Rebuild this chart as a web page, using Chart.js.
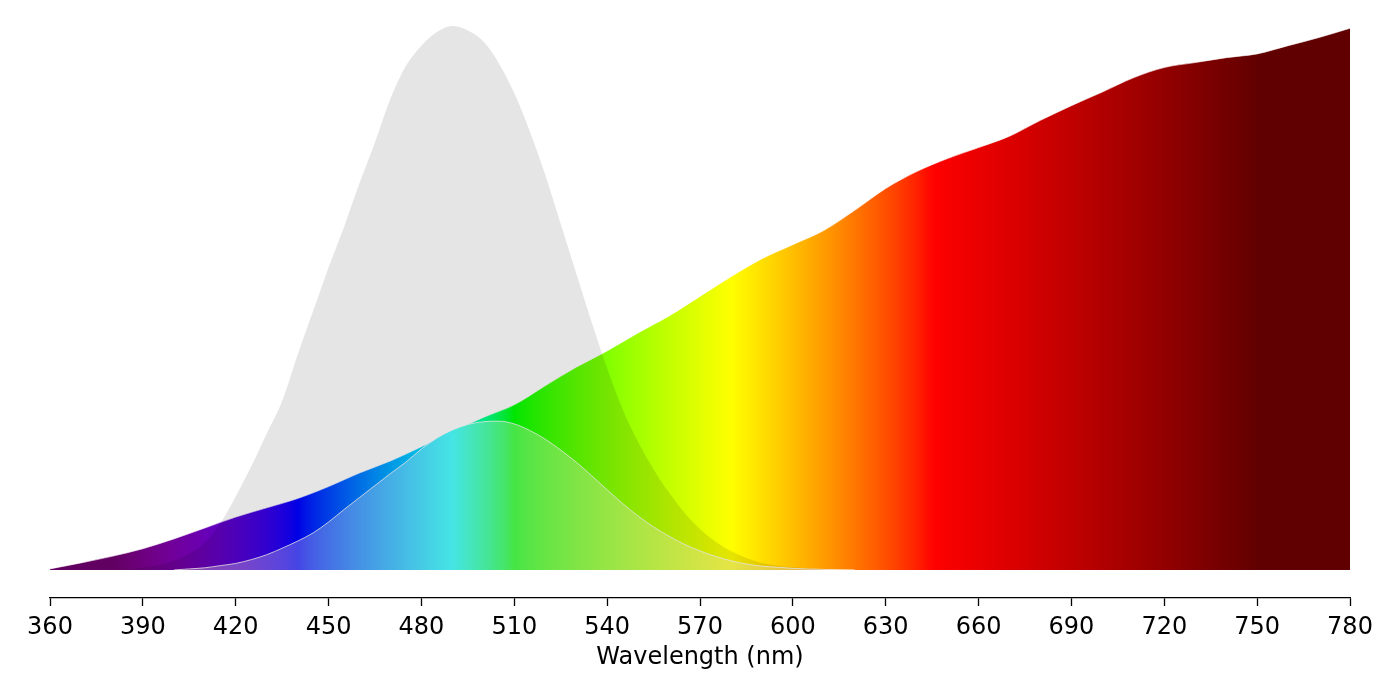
<!DOCTYPE html>
<html>
<head>
<meta charset="utf-8">
<script src="https://cdn.jsdelivr.net/npm/chart.js@4/dist/chart.umd.min.js"></script>
<style>
  html, body { margin: 0; padding: 0; background: #fff; }
  #wrap { width: 1400px; height: 700px; position: relative; }
</style>
</head>
<body>
<div id="wrap"><canvas id="chart"></canvas></div>
<script>
// spectrum (big rainbow area), read every 10 nm
const spectrumWl = [360, 370, 380, 390, 400, 410, 420, 430, 440, 450, 460, 470, 480, 490, 500, 510, 520, 530, 540, 550,
                    560, 570, 580, 590, 600, 610, 620, 630, 640, 650, 660, 670, 680, 690, 700, 710, 720, 730, 740, 750,
                    760, 770, 780];
const spectrumVals = [0.002, 0.013, 0.025, 0.039, 0.057, 0.077, 0.097, 0.114, 0.131, 0.153, 0.178, 0.200, 0.226, 0.254, 0.280, 0.303, 0.338, 0.372, 0.402, 0.435,
                      0.466, 0.502, 0.538, 0.571, 0.597, 0.623, 0.660, 0.700, 0.731, 0.755, 0.775, 0.796, 0.825, 0.852, 0.877, 0.903, 0.922, 0.931, 0.940, 0.947,
                      0.962, 0.977, 0.994];

// eye sensitivity (grey hump), every 5 nm
const sensWl = [380, 385, 390, 395, 400, 405, 410, 415, 420, 425, 430, 435, 440, 445, 450, 455, 460, 465, 470, 475,
                480, 485, 490, 495, 500, 505, 510, 515, 520, 525, 530, 535, 540, 545, 550, 555, 560, 565, 570, 575,
                580, 585, 590, 595, 600, 610, 620];
const sensVals = [0.0, 0.001, 0.004, 0.009, 0.017, 0.03, 0.05, 0.085, 0.135, 0.19, 0.25, 0.31, 0.395, 0.475, 0.555, 0.63, 0.71, 0.785, 0.865, 0.925,
                  0.962, 0.987, 0.998, 0.99, 0.97, 0.93, 0.875, 0.805, 0.725, 0.635, 0.545, 0.455, 0.37, 0.295, 0.235, 0.185, 0.142, 0.105, 0.075, 0.052,
                  0.035, 0.022, 0.013, 0.008, 0.005, 0.0015, 0.0];

// perceived light (small rainbow hump), every 5 nm
const perceivedWl = [400, 405, 410, 415, 420, 425, 430, 435, 440, 445, 450, 455, 460, 465, 470, 475, 480, 485, 490, 495,
                     500, 505, 510, 515, 520, 525, 530, 535, 540, 545, 550, 555, 560, 565, 570, 575, 580, 585, 590, 595,
                     600, 610, 620];
const perceivedVals = [0.0, 0.002, 0.004, 0.008, 0.012, 0.019, 0.028, 0.04, 0.053, 0.068, 0.088, 0.111, 0.133, 0.155, 0.177, 0.198, 0.222, 0.242, 0.257, 0.267,
                       0.272, 0.273, 0.268, 0.256, 0.240, 0.220, 0.198, 0.173, 0.147, 0.122, 0.099, 0.079, 0.062, 0.047, 0.035, 0.025, 0.017, 0.011, 0.007, 0.005,
                       0.003, 0.001, 0.0];

const xTickStep = 30;
const xMin = 360, xMax = 780;

// wavelength -> rgb, the usual Bruton-style mapping
function waveRGB(w) {
  w = Math.min(750, Math.max(380, w));
  let r = 0, g = 0, b = 0;
  if (w <= 440) { const a = 0.3 + 0.7 * (w - 380) / 60; r = (440 - w) / 60 * a; b = a; }
  else if (w <= 490) { g = (w - 440) / 50; b = 1; }
  else if (w <= 510) { g = 1; b = (510 - w) / 20; }
  else if (w <= 580) { r = (w - 510) / 70; g = 1; }
  else if (w <= 645) { r = 1; g = (645 - w) / 65; }
  else { r = 0.3 + 0.7 * (750 - w) / 105; }
  return [r, g, b].map(v => Math.round(255 * Math.pow(v, 0.8)));
}

function rainbow(chart, whiten) {
  const { ctx, chartArea, scales } = chart;
  if (!chartArea) return "#888";
  const x0 = scales.x.getPixelForValue(xMin), x1 = scales.x.getPixelForValue(xMax);
  const grad = ctx.createLinearGradient(x0, 0, x1, 0);
  for (let w = xMin; w <= xMax; w += 2) {
    const c = waveRGB(w).map(v => Math.round(v * (1 - whiten) + 255 * whiten));
    grad.addColorStop((w - xMin) / (xMax - xMin), `rgb(${c[0]},${c[1]},${c[2]})`);
  }
  return grad;
}

const pts = (xs, ys) => xs.map((x, i) => ({ x, y: ys[i] }));

new Chart(document.getElementById("chart"), {
  type: "line",
  data: {
    datasets: [
      {
        label: "sensitivity",
        data: pts(sensWl, sensVals),
        fill: "origin",
        backgroundColor: "rgba(0,0,0,0.1)",
        borderWidth: 0,
        borderColor: "rgba(0,0,0,0)",
        order: 1
      },
      {
        label: "perceived",
        data: pts(perceivedWl, perceivedVals),
        fill: "origin",
        backgroundColor: ctx => rainbow(ctx.chart, 0.3),
        borderColor: "#fff",
        borderWidth: 0.8,
        order: 2
      },
      {
        label: "spectrum",
        data: pts(spectrumWl, spectrumVals),
        fill: "origin",
        backgroundColor: ctx => rainbow(ctx.chart, 0),
        borderColor: "#fff",
        borderWidth: 0.6,
        order: 3
      }
    ]
  },
  options: {
    responsive: true,
    maintainAspectRatio: false,
    animation: false,
    devicePixelRatio: 1,
    layout: { padding: { top: 25, left: 50, right: 50, bottom: 28 } },
    elements: {
      point: { radius: 0 },
      line: { cubicInterpolationMode: "monotone" }
    },
    plugins: { legend: { display: false }, tooltip: { enabled: false } },
    scales: {
      x: {
        type: "linear",
        min: xMin,
        max: xMax,
        ticks: {
          stepSize: xTickStep,
          color: "#000",
          padding: 7,
          font: { family: "DejaVu Sans", size: 24 }
        },
        grid: { drawOnChartArea: false, drawTicks: true, tickLength: 8, tickColor: "#000", tickWidth: 1.3 },
        border: { display: true, color: "#000", width: 1.3 },
        title: {
          display: true,
          text: "Wavelength (nm)",
          color: "#000",
          padding: { top: 2, bottom: 0 },
          font: { family: "DejaVu Sans", size: 24 }
        },
        afterFit: s => { s.height = 74; }
      },
      y: {
        display: false,
        min: -0.0514,
        max: 1.0
      }
    }
  }
});
</script>
</body>
</html>
